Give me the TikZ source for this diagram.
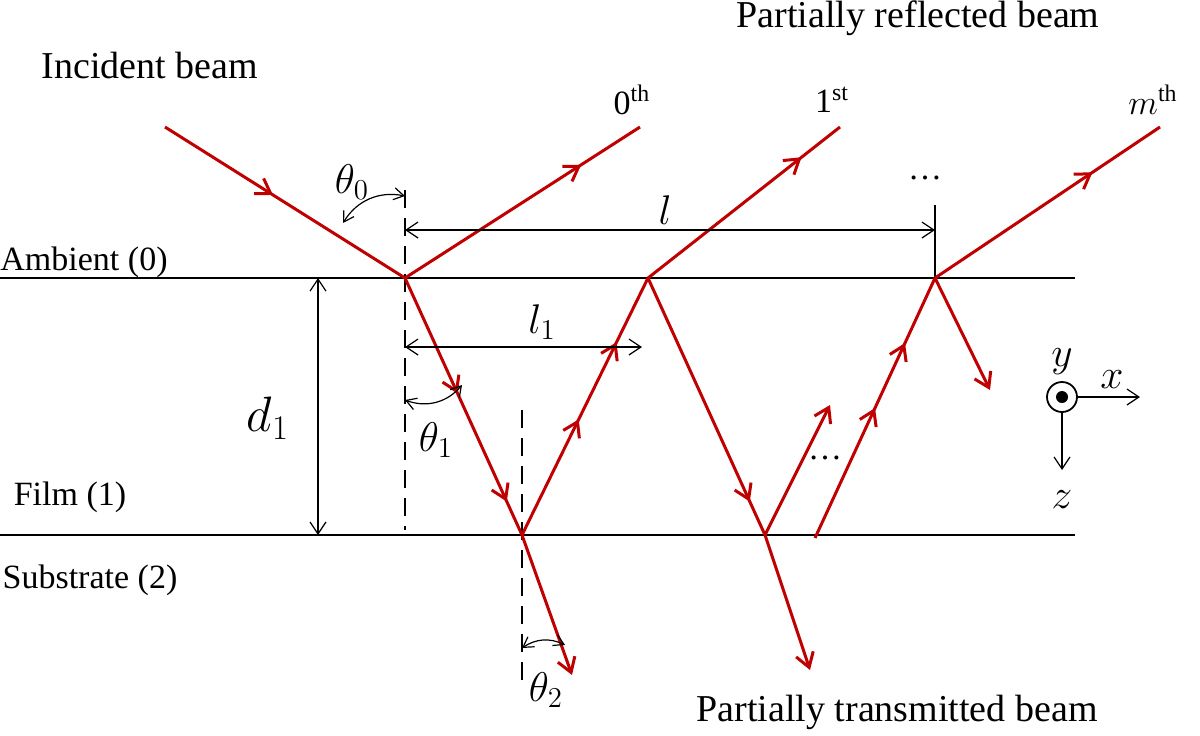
\documentclass[tikz,border=0pt]{standalone}
\usepackage{fontspec}
\setmainfont{Liberation Serif}
\newfontfamily\sfcal{Carlito}
\usetikzlibrary{arrows.meta,decorations.markings}
\definecolor{beam}{RGB}{192,0,0}
\begin{document}
\begin{tikzpicture}[x=0.5pt,y=-0.5pt,
  ray/.style={draw=beam,line width=1.5pt},
  ar/.style={postaction={decorate,decoration={markings,mark=at position #1 with {\arrow[beam,line width=1.5pt]{Straight Barb[length=7pt,width=9pt]}}}}},
  endar/.style={-{Straight Barb[length=7pt,width=9pt]}},
  thin/.style={draw=black,line width=0.6pt},
  dim/.style={thin,{Straight Barb[length=6pt,width=8pt]}-{Straight Barb[length=6pt,width=8pt]}},
  lbl/.style={font=\fontsize{17}{20}\selectfont,inner sep=0pt},
  slbl/.style={font=\fontsize{19}{22}\selectfont,inner sep=0pt},
  mlbl/.style={font=\fontsize{20}{24}\selectfont,inner sep=0pt}]
\useasboundingbox (0,0) rectangle (1200,735);
% interfaces
\coordinate (L0) at (0,278); \coordinate (R0) at (1075,278);
\coordinate (L1) at (0,535); \coordinate (R1) at (1075,535);
\draw[thin,line width=0.9pt] (L0)--(R0);
\draw[thin,line width=0.9pt] (L1)--(R1);
% points
\coordinate (S) at (165,127); \coordinate (A) at (405,278);
\coordinate (B) at (522,535); \coordinate (C) at (648,278);
\coordinate (D) at (765,535); \coordinate (E) at (815,538);
\coordinate (F) at (935,278);
\coordinate (R0e) at (640,127); \coordinate (R1e) at (840,127); \coordinate (Rme) at (1160,127);
\coordinate (T0) at (572,675); \coordinate (T1) at (810,670);
\coordinate (G) at (830,405); \coordinate (H) at (990,390);
% dashed normals
\coordinate (n1a) at (405,190); \coordinate (n1b) at (405,530);
\coordinate (n2a) at (522,410); \coordinate (n2b) at (522,680);
\draw[thin,dashed,dash pattern=on 9pt off 5pt] (n1a)--(n1b);
\draw[thin,dashed,dash pattern=on 9pt off 5pt] (n2a)--(n2b);
\coordinate (v1) at (935,205); \draw[thin,line width=0.9pt] (v1)--(F);
% rays
\draw[ray,ar=0.45] (S)--(A);
\draw[ray,ar=0.75] (A)--(R0e);
\draw[ray,ar=0.45,ar=0.87] (A)--(B);
\draw[ray,ar=0.45,ar=0.75] (B)--(C);
\draw[ray,ar=0.8] (C)--(R1e);
\draw[ray,ar=0.87] (C)--(D);
\draw[ray,endar] (B)--(T0);
\draw[ray,endar] (D)--(T1);
\draw[ray,endar] (D)--(G);
\draw[ray,ar=0.5,ar=0.75] (E)--(F);
\draw[ray,ar=0.7] (F)--(Rme);
\draw[ray,endar] (F)--(H);
% dimensions
\coordinate (la) at (405,230); \coordinate (lb) at (935,230);
\draw[dim] (la)--(lb);
\coordinate (l1a) at (405,347); \coordinate (l1b) at (642,347);
\draw[dim] (l1a)--(l1b);
\coordinate (da) at (318,278); \coordinate (db) at (318,535);
\draw[dim] (da)--(db);
% angle arcs
\coordinate (a0a) at (343,223); \coordinate (a0b) at (405,196);
\draw[thin,{Straight Barb[length=5pt,width=6pt]}-{Straight Barb[length=5pt,width=6pt]}] (a0a) to[bend left=35] (a0b);
\coordinate (a1a) at (405,400); \coordinate (a1b) at (462,385);
\draw[thin,{Straight Barb[length=5pt,width=6pt]}-{Straight Barb[length=5pt,width=6pt]}] (a1a) to[bend right=35] (a1b);
\coordinate (a2a) at (522,648); \coordinate (a2b) at (565,645);
\draw[thin,{Straight Barb[length=5pt,width=6pt]}-{Straight Barb[length=5pt,width=6pt]}] (a2a) to[bend left=30] (a2b);
% coordinate system
\node[draw,circle,line width=0.9pt,minimum size=15pt,inner sep=0pt] (O) at (1062,397) {};
\fill (O) circle (3pt);
\coordinate (xe) at (1140,397); \coordinate (ze) at (1062,470);
\draw[thin,-{Straight Barb[length=6pt,width=8pt]}] (O.east)--(xe);
\draw[thin,-{Straight Barb[length=6pt,width=8pt]}] (O.south)--(ze);
% labels
\node[mlbl] (xl) at (1112,380) {$x$};
\node[mlbl] (yl) at (1062,362) {$y$};
\node[mlbl] (zl) at (1062,500) {$z$};
\node[mlbl] (lL) at (665,210) {$l$};
\node[mlbl] (l1L) at (542,322) {$l_1$};
\node[mlbl,font=\fontsize{24}{28}\selectfont] (dL) at (268,418) {$d_1$};
\node[mlbl] (t0) at (352,182) {$\theta_0$};
\node[mlbl] (t1) at (436,440) {$\theta_1$};
\node[mlbl] (t2) at (546,690) {$\theta_2$};
\node[slbl] (inc) at (150,65) {Incident beam};
\node[slbl] (prb) at (918,18) {Partially reflected beam};
\node[slbl] (ptb) at (897,712) {Partially transmitted beam};
\node[lbl] (amb) at (84,262) {Ambient (0)};
\node[lbl] (film) at (70,497) {Film (1)};
\node[lbl] (sub) at (90,580) {Substrate (2)};
\node[lbl] (o0) at (632,100) {0\textsuperscript{th}};
\node[lbl] (o1) at (832,100) {1\textsuperscript{st}};
\node[lbl] (om) at (1153,100) {$m$\textsuperscript{th}};
\node[lbl] (dots1) at (925,178) {\dots};
\node[lbl] (dots2) at (825,458) {\dots};
\end{tikzpicture}
\end{document}
